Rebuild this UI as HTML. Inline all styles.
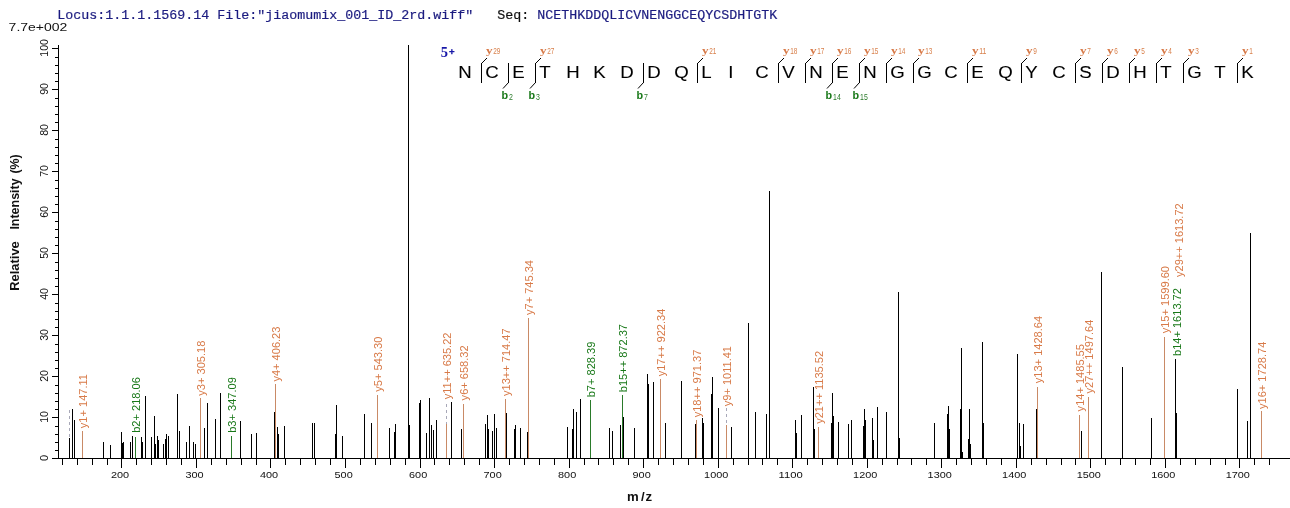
<!DOCTYPE html><html><head><meta charset="utf-8"><style>html,body{margin:0;padding:0;background:#fff;overflow:hidden}svg{display:block;will-change:transform}</style></head><body><svg width="1290" height="508" viewBox="0 0 1290 508">
<rect width="1290" height="508" fill="#fff"/>
<text x="57.3" y="18.9" font-family="Liberation Mono, monospace" font-size="13.7" fill="#1C1C80" stroke="#1C1C80" stroke-width="0.2" textLength="416" lengthAdjust="spacingAndGlyphs">Locus:1.1.1.1569.14 File:"jiaomumix_001_ID_2rd.wiff"</text>
<text x="497.3" y="18.9" font-family="Liberation Mono, monospace" font-size="13.7" fill="#111" stroke="#111" stroke-width="0.2" textLength="32" lengthAdjust="spacingAndGlyphs">Seq:</text>
<text x="537.3" y="18.9" font-family="Liberation Mono, monospace" font-size="13.7" fill="#1C1C80" stroke="#1C1C80" stroke-width="0.2" textLength="240" lengthAdjust="spacingAndGlyphs">NCETHKDDQLICVNENGGCEQYCSDHTGTK</text>
<text x="8.6" y="30.7" font-family="Liberation Sans, sans-serif" font-size="11.8" fill="#111" textLength="58.8" lengthAdjust="spacingAndGlyphs">7.7e+002</text>
<g stroke="#000" stroke-width="1" shape-rendering="crispEdges">
<line x1="58.5" y1="45" x2="58.5" y2="459"/>
<line x1="52" y1="458.5" x2="1290" y2="458.5"/>
<line x1="52" y1="458.5" x2="58.5" y2="458.5"/>
<line x1="55" y1="450.5" x2="58.5" y2="450.5"/>
<line x1="55" y1="442.5" x2="58.5" y2="442.5"/>
<line x1="55" y1="434.5" x2="58.5" y2="434.5"/>
<line x1="55" y1="426.5" x2="58.5" y2="426.5"/>
<line x1="52" y1="417.5" x2="58.5" y2="417.5"/>
<line x1="55" y1="409.5" x2="58.5" y2="409.5"/>
<line x1="55" y1="401.5" x2="58.5" y2="401.5"/>
<line x1="55" y1="393.5" x2="58.5" y2="393.5"/>
<line x1="55" y1="385.5" x2="58.5" y2="385.5"/>
<line x1="52" y1="376.5" x2="58.5" y2="376.5"/>
<line x1="55" y1="368.5" x2="58.5" y2="368.5"/>
<line x1="55" y1="360.5" x2="58.5" y2="360.5"/>
<line x1="55" y1="352.5" x2="58.5" y2="352.5"/>
<line x1="55" y1="344.5" x2="58.5" y2="344.5"/>
<line x1="52" y1="335.5" x2="58.5" y2="335.5"/>
<line x1="55" y1="327.5" x2="58.5" y2="327.5"/>
<line x1="55" y1="319.5" x2="58.5" y2="319.5"/>
<line x1="55" y1="311.5" x2="58.5" y2="311.5"/>
<line x1="55" y1="303.5" x2="58.5" y2="303.5"/>
<line x1="52" y1="294.5" x2="58.5" y2="294.5"/>
<line x1="55" y1="286.5" x2="58.5" y2="286.5"/>
<line x1="55" y1="278.5" x2="58.5" y2="278.5"/>
<line x1="55" y1="270.5" x2="58.5" y2="270.5"/>
<line x1="55" y1="262.5" x2="58.5" y2="262.5"/>
<line x1="52" y1="253.5" x2="58.5" y2="253.5"/>
<line x1="55" y1="245.5" x2="58.5" y2="245.5"/>
<line x1="55" y1="237.5" x2="58.5" y2="237.5"/>
<line x1="55" y1="229.5" x2="58.5" y2="229.5"/>
<line x1="55" y1="221.5" x2="58.5" y2="221.5"/>
<line x1="52" y1="212.5" x2="58.5" y2="212.5"/>
<line x1="55" y1="204.5" x2="58.5" y2="204.5"/>
<line x1="55" y1="196.5" x2="58.5" y2="196.5"/>
<line x1="55" y1="188.5" x2="58.5" y2="188.5"/>
<line x1="55" y1="180.5" x2="58.5" y2="180.5"/>
<line x1="52" y1="171.5" x2="58.5" y2="171.5"/>
<line x1="55" y1="163.5" x2="58.5" y2="163.5"/>
<line x1="55" y1="155.5" x2="58.5" y2="155.5"/>
<line x1="55" y1="147.5" x2="58.5" y2="147.5"/>
<line x1="55" y1="139.5" x2="58.5" y2="139.5"/>
<line x1="52" y1="130.5" x2="58.5" y2="130.5"/>
<line x1="55" y1="122.5" x2="58.5" y2="122.5"/>
<line x1="55" y1="114.5" x2="58.5" y2="114.5"/>
<line x1="55" y1="106.5" x2="58.5" y2="106.5"/>
<line x1="55" y1="98.5" x2="58.5" y2="98.5"/>
<line x1="52" y1="89.5" x2="58.5" y2="89.5"/>
<line x1="55" y1="81.5" x2="58.5" y2="81.5"/>
<line x1="55" y1="73.5" x2="58.5" y2="73.5"/>
<line x1="55" y1="65.5" x2="58.5" y2="65.5"/>
<line x1="55" y1="57.5" x2="58.5" y2="57.5"/>
<line x1="52" y1="48.5" x2="58.5" y2="48.5"/>
<line x1="62.5" y1="458.5" x2="62.5" y2="465"/>
<line x1="77.5" y1="458.5" x2="77.5" y2="465"/>
<line x1="92.5" y1="458.5" x2="92.5" y2="465"/>
<line x1="107.5" y1="458.5" x2="107.5" y2="465"/>
<line x1="121.5" y1="458.5" x2="121.5" y2="468"/>
<line x1="136.5" y1="458.5" x2="136.5" y2="465"/>
<line x1="151.5" y1="458.5" x2="151.5" y2="465"/>
<line x1="166.5" y1="458.5" x2="166.5" y2="465"/>
<line x1="181.5" y1="458.5" x2="181.5" y2="465"/>
<line x1="196.5" y1="458.5" x2="196.5" y2="468"/>
<line x1="211.5" y1="458.5" x2="211.5" y2="465"/>
<line x1="226.5" y1="458.5" x2="226.5" y2="465"/>
<line x1="241.5" y1="458.5" x2="241.5" y2="465"/>
<line x1="256.5" y1="458.5" x2="256.5" y2="465"/>
<line x1="270.5" y1="458.5" x2="270.5" y2="468"/>
<line x1="285.5" y1="458.5" x2="285.5" y2="465"/>
<line x1="300.5" y1="458.5" x2="300.5" y2="465"/>
<line x1="315.5" y1="458.5" x2="315.5" y2="465"/>
<line x1="330.5" y1="458.5" x2="330.5" y2="465"/>
<line x1="345.5" y1="458.5" x2="345.5" y2="468"/>
<line x1="360.5" y1="458.5" x2="360.5" y2="465"/>
<line x1="375.5" y1="458.5" x2="375.5" y2="465"/>
<line x1="390.5" y1="458.5" x2="390.5" y2="465"/>
<line x1="405.5" y1="458.5" x2="405.5" y2="465"/>
<line x1="420.5" y1="458.5" x2="420.5" y2="468"/>
<line x1="434.5" y1="458.5" x2="434.5" y2="465"/>
<line x1="449.5" y1="458.5" x2="449.5" y2="465"/>
<line x1="464.5" y1="458.5" x2="464.5" y2="465"/>
<line x1="479.5" y1="458.5" x2="479.5" y2="465"/>
<line x1="494.5" y1="458.5" x2="494.5" y2="468"/>
<line x1="509.5" y1="458.5" x2="509.5" y2="465"/>
<line x1="524.5" y1="458.5" x2="524.5" y2="465"/>
<line x1="539.5" y1="458.5" x2="539.5" y2="465"/>
<line x1="554.5" y1="458.5" x2="554.5" y2="465"/>
<line x1="569.5" y1="458.5" x2="569.5" y2="468"/>
<line x1="584.5" y1="458.5" x2="584.5" y2="465"/>
<line x1="598.5" y1="458.5" x2="598.5" y2="465"/>
<line x1="613.5" y1="458.5" x2="613.5" y2="465"/>
<line x1="628.5" y1="458.5" x2="628.5" y2="465"/>
<line x1="643.5" y1="458.5" x2="643.5" y2="468"/>
<line x1="658.5" y1="458.5" x2="658.5" y2="465"/>
<line x1="673.5" y1="458.5" x2="673.5" y2="465"/>
<line x1="688.5" y1="458.5" x2="688.5" y2="465"/>
<line x1="703.5" y1="458.5" x2="703.5" y2="465"/>
<line x1="718.5" y1="458.5" x2="718.5" y2="468"/>
<line x1="733.5" y1="458.5" x2="733.5" y2="465"/>
<line x1="748.5" y1="458.5" x2="748.5" y2="465"/>
<line x1="762.5" y1="458.5" x2="762.5" y2="465"/>
<line x1="777.5" y1="458.5" x2="777.5" y2="465"/>
<line x1="792.5" y1="458.5" x2="792.5" y2="468"/>
<line x1="807.5" y1="458.5" x2="807.5" y2="465"/>
<line x1="822.5" y1="458.5" x2="822.5" y2="465"/>
<line x1="837.5" y1="458.5" x2="837.5" y2="465"/>
<line x1="852.5" y1="458.5" x2="852.5" y2="465"/>
<line x1="867.5" y1="458.5" x2="867.5" y2="468"/>
<line x1="882.5" y1="458.5" x2="882.5" y2="465"/>
<line x1="897.5" y1="458.5" x2="897.5" y2="465"/>
<line x1="911.5" y1="458.5" x2="911.5" y2="465"/>
<line x1="926.5" y1="458.5" x2="926.5" y2="465"/>
<line x1="941.5" y1="458.5" x2="941.5" y2="468"/>
<line x1="956.5" y1="458.5" x2="956.5" y2="465"/>
<line x1="971.5" y1="458.5" x2="971.5" y2="465"/>
<line x1="986.5" y1="458.5" x2="986.5" y2="465"/>
<line x1="1001.5" y1="458.5" x2="1001.5" y2="465"/>
<line x1="1016.5" y1="458.5" x2="1016.5" y2="468"/>
<line x1="1031.5" y1="458.5" x2="1031.5" y2="465"/>
<line x1="1046.5" y1="458.5" x2="1046.5" y2="465"/>
<line x1="1061.5" y1="458.5" x2="1061.5" y2="465"/>
<line x1="1075.5" y1="458.5" x2="1075.5" y2="465"/>
<line x1="1090.5" y1="458.5" x2="1090.5" y2="468"/>
<line x1="1105.5" y1="458.5" x2="1105.5" y2="465"/>
<line x1="1120.5" y1="458.5" x2="1120.5" y2="465"/>
<line x1="1135.5" y1="458.5" x2="1135.5" y2="465"/>
<line x1="1150.5" y1="458.5" x2="1150.5" y2="465"/>
<line x1="1165.5" y1="458.5" x2="1165.5" y2="468"/>
<line x1="1180.5" y1="458.5" x2="1180.5" y2="465"/>
<line x1="1195.5" y1="458.5" x2="1195.5" y2="465"/>
<line x1="1210.5" y1="458.5" x2="1210.5" y2="465"/>
<line x1="1225.5" y1="458.5" x2="1225.5" y2="465"/>
<line x1="1239.5" y1="458.5" x2="1239.5" y2="468"/>
<line x1="1254.5" y1="458.5" x2="1254.5" y2="465"/>
<line x1="1269.5" y1="458.5" x2="1269.5" y2="465"/>
</g>
<text x="120.0" y="478.2" font-family="Liberation Sans, sans-serif" font-size="9.5" fill="#111" text-anchor="middle" textLength="18.2" lengthAdjust="spacingAndGlyphs">200</text>
<text x="194.5" y="478.2" font-family="Liberation Sans, sans-serif" font-size="9.5" fill="#111" text-anchor="middle" textLength="18.2" lengthAdjust="spacingAndGlyphs">300</text>
<text x="269.0" y="478.2" font-family="Liberation Sans, sans-serif" font-size="9.5" fill="#111" text-anchor="middle" textLength="18.2" lengthAdjust="spacingAndGlyphs">400</text>
<text x="343.6" y="478.2" font-family="Liberation Sans, sans-serif" font-size="9.5" fill="#111" text-anchor="middle" textLength="18.2" lengthAdjust="spacingAndGlyphs">500</text>
<text x="418.1" y="478.2" font-family="Liberation Sans, sans-serif" font-size="9.5" fill="#111" text-anchor="middle" textLength="18.2" lengthAdjust="spacingAndGlyphs">600</text>
<text x="492.6" y="478.2" font-family="Liberation Sans, sans-serif" font-size="9.5" fill="#111" text-anchor="middle" textLength="18.2" lengthAdjust="spacingAndGlyphs">700</text>
<text x="567.1" y="478.2" font-family="Liberation Sans, sans-serif" font-size="9.5" fill="#111" text-anchor="middle" textLength="18.2" lengthAdjust="spacingAndGlyphs">800</text>
<text x="641.6" y="478.2" font-family="Liberation Sans, sans-serif" font-size="9.5" fill="#111" text-anchor="middle" textLength="18.2" lengthAdjust="spacingAndGlyphs">900</text>
<text x="716.2" y="478.2" font-family="Liberation Sans, sans-serif" font-size="9.5" fill="#111" text-anchor="middle" textLength="24.2" lengthAdjust="spacingAndGlyphs">1000</text>
<text x="790.7" y="478.2" font-family="Liberation Sans, sans-serif" font-size="9.5" fill="#111" text-anchor="middle" textLength="24.2" lengthAdjust="spacingAndGlyphs">1100</text>
<text x="865.2" y="478.2" font-family="Liberation Sans, sans-serif" font-size="9.5" fill="#111" text-anchor="middle" textLength="24.2" lengthAdjust="spacingAndGlyphs">1200</text>
<text x="939.7" y="478.2" font-family="Liberation Sans, sans-serif" font-size="9.5" fill="#111" text-anchor="middle" textLength="24.2" lengthAdjust="spacingAndGlyphs">1300</text>
<text x="1014.2" y="478.2" font-family="Liberation Sans, sans-serif" font-size="9.5" fill="#111" text-anchor="middle" textLength="24.2" lengthAdjust="spacingAndGlyphs">1400</text>
<text x="1088.8" y="478.2" font-family="Liberation Sans, sans-serif" font-size="9.5" fill="#111" text-anchor="middle" textLength="24.2" lengthAdjust="spacingAndGlyphs">1500</text>
<text x="1163.3" y="478.2" font-family="Liberation Sans, sans-serif" font-size="9.5" fill="#111" text-anchor="middle" textLength="24.2" lengthAdjust="spacingAndGlyphs">1600</text>
<text x="1237.8" y="478.2" font-family="Liberation Sans, sans-serif" font-size="9.5" fill="#111" text-anchor="middle" textLength="24.2" lengthAdjust="spacingAndGlyphs">1700</text>
<text transform="translate(48.2,457.9) rotate(-90)" font-family="Liberation Sans, sans-serif" font-size="11" fill="#111" text-anchor="middle" textLength="6.2" lengthAdjust="spacingAndGlyphs">0</text>
<text transform="translate(48.2,416.9) rotate(-90)" font-family="Liberation Sans, sans-serif" font-size="11" fill="#111" text-anchor="middle" textLength="11.8" lengthAdjust="spacingAndGlyphs">10</text>
<text transform="translate(48.2,375.9) rotate(-90)" font-family="Liberation Sans, sans-serif" font-size="11" fill="#111" text-anchor="middle" textLength="11.8" lengthAdjust="spacingAndGlyphs">20</text>
<text transform="translate(48.2,334.9) rotate(-90)" font-family="Liberation Sans, sans-serif" font-size="11" fill="#111" text-anchor="middle" textLength="11.8" lengthAdjust="spacingAndGlyphs">30</text>
<text transform="translate(48.2,293.9) rotate(-90)" font-family="Liberation Sans, sans-serif" font-size="11" fill="#111" text-anchor="middle" textLength="11.8" lengthAdjust="spacingAndGlyphs">40</text>
<text transform="translate(48.2,252.9) rotate(-90)" font-family="Liberation Sans, sans-serif" font-size="11" fill="#111" text-anchor="middle" textLength="11.8" lengthAdjust="spacingAndGlyphs">50</text>
<text transform="translate(48.2,211.9) rotate(-90)" font-family="Liberation Sans, sans-serif" font-size="11" fill="#111" text-anchor="middle" textLength="11.8" lengthAdjust="spacingAndGlyphs">60</text>
<text transform="translate(48.2,170.9) rotate(-90)" font-family="Liberation Sans, sans-serif" font-size="11" fill="#111" text-anchor="middle" textLength="11.8" lengthAdjust="spacingAndGlyphs">70</text>
<text transform="translate(48.2,129.9) rotate(-90)" font-family="Liberation Sans, sans-serif" font-size="11" fill="#111" text-anchor="middle" textLength="11.8" lengthAdjust="spacingAndGlyphs">80</text>
<text transform="translate(48.2,88.9) rotate(-90)" font-family="Liberation Sans, sans-serif" font-size="11" fill="#111" text-anchor="middle" textLength="11.8" lengthAdjust="spacingAndGlyphs">90</text>
<text transform="translate(48.2,47.9) rotate(-90)" font-family="Liberation Sans, sans-serif" font-size="11" fill="#111" text-anchor="middle" textLength="17.6" lengthAdjust="spacingAndGlyphs">100</text>
<g font-family="Liberation Sans, sans-serif" font-weight="bold" font-size="13" fill="#111">
<text transform="translate(18.8,266.0) rotate(-90)" text-anchor="middle" textLength="49.6" lengthAdjust="spacingAndGlyphs">Relative</text>
<text transform="translate(18.8,204.0) rotate(-90)" text-anchor="middle" textLength="51.2" lengthAdjust="spacingAndGlyphs">Intensity</text>
<text transform="translate(18.8,164.0) rotate(-90)" text-anchor="middle" textLength="19.2" lengthAdjust="spacingAndGlyphs">(%)</text>
</g>
<text x="626.9" y="501" font-family="Liberation Sans, sans-serif" font-weight="bold" font-size="13.2" fill="#111">m</text>
<text x="641.0" y="501" font-family="Liberation Sans, sans-serif" font-weight="bold" font-size="13.2" fill="#111">/</text>
<text x="645.4" y="501" font-family="Liberation Sans, sans-serif" font-weight="bold" font-size="13.2" fill="#111">z</text>
<g stroke="#000" stroke-width="1" shape-rendering="crispEdges">
<line x1="69.5" y1="438.0" x2="69.5" y2="458"/>
<line x1="72.5" y1="408.8" x2="72.5" y2="458"/>
<line x1="74.5" y1="419.8" x2="74.5" y2="458"/>
<line x1="103.5" y1="441.9" x2="103.5" y2="458"/>
<line x1="110.5" y1="445.0" x2="110.5" y2="458"/>
<line x1="121.5" y1="431.9" x2="121.5" y2="458"/>
<line x1="122.5" y1="443.3" x2="122.5" y2="458"/>
<line x1="123.5" y1="441.9" x2="123.5" y2="458"/>
<line x1="130.5" y1="441.9" x2="130.5" y2="458"/>
<line x1="132.5" y1="435.9" x2="132.5" y2="458"/>
<line x1="141.5" y1="436.9" x2="141.5" y2="458"/>
<line x1="142.5" y1="441.9" x2="142.5" y2="458"/>
<line x1="145.5" y1="395.7" x2="145.5" y2="458"/>
<line x1="151.5" y1="436.9" x2="151.5" y2="458"/>
<line x1="154.5" y1="416.0" x2="154.5" y2="458"/>
<line x1="155.5" y1="444.0" x2="155.5" y2="458"/>
<line x1="157.5" y1="435.9" x2="157.5" y2="458"/>
<line x1="158.5" y1="439.9" x2="158.5" y2="458"/>
<line x1="163.5" y1="444.0" x2="163.5" y2="458"/>
<line x1="165.5" y1="438.9" x2="165.5" y2="458"/>
<line x1="166.5" y1="433.9" x2="166.5" y2="458"/>
<line x1="168.5" y1="435.9" x2="168.5" y2="458"/>
<line x1="177.5" y1="394.1" x2="177.5" y2="458"/>
<line x1="179.5" y1="430.9" x2="179.5" y2="458"/>
<line x1="186.5" y1="441.9" x2="186.5" y2="458"/>
<line x1="189.5" y1="425.9" x2="189.5" y2="458"/>
<line x1="193.5" y1="441.9" x2="193.5" y2="458"/>
<line x1="195.5" y1="444.0" x2="195.5" y2="458"/>
<line x1="204.5" y1="427.9" x2="204.5" y2="458"/>
<line x1="207.5" y1="402.8" x2="207.5" y2="458"/>
<line x1="215.5" y1="418.8" x2="215.5" y2="458"/>
<line x1="220.5" y1="393.1" x2="220.5" y2="458"/>
<line x1="240.5" y1="420.8" x2="240.5" y2="458"/>
<line x1="251.5" y1="433.9" x2="251.5" y2="458"/>
<line x1="256.5" y1="432.9" x2="256.5" y2="458"/>
<line x1="274.5" y1="411.8" x2="274.5" y2="458"/>
<line x1="277.5" y1="426.9" x2="277.5" y2="458"/>
<line x1="278.5" y1="433.9" x2="278.5" y2="458"/>
<line x1="284.5" y1="425.9" x2="284.5" y2="458"/>
<line x1="312.5" y1="422.9" x2="312.5" y2="458"/>
<line x1="314.5" y1="422.9" x2="314.5" y2="458"/>
<line x1="335.5" y1="433.9" x2="335.5" y2="458"/>
<line x1="336.5" y1="404.8" x2="336.5" y2="458"/>
<line x1="342.5" y1="435.9" x2="342.5" y2="458"/>
<line x1="364.5" y1="413.8" x2="364.5" y2="458"/>
<line x1="371.5" y1="422.9" x2="371.5" y2="458"/>
<line x1="389.5" y1="427.9" x2="389.5" y2="458"/>
<line x1="394.5" y1="431.9" x2="394.5" y2="458"/>
<line x1="395.5" y1="423.9" x2="395.5" y2="458"/>
<line x1="408.5" y1="45.0" x2="408.5" y2="458"/>
<line x1="409.5" y1="424.9" x2="409.5" y2="458"/>
<line x1="419.5" y1="402.8" x2="419.5" y2="458"/>
<line x1="420.5" y1="400.2" x2="420.5" y2="458"/>
<line x1="426.5" y1="432.9" x2="426.5" y2="458"/>
<line x1="429.5" y1="398.2" x2="429.5" y2="458"/>
<line x1="431.5" y1="424.9" x2="431.5" y2="458"/>
<line x1="433.5" y1="429.9" x2="433.5" y2="458"/>
<line x1="436.5" y1="419.8" x2="436.5" y2="458"/>
<line x1="451.5" y1="402.0" x2="451.5" y2="458"/>
<line x1="461.5" y1="429.0" x2="461.5" y2="458"/>
<line x1="485.5" y1="423.9" x2="485.5" y2="458"/>
<line x1="487.5" y1="414.8" x2="487.5" y2="458"/>
<line x1="488.5" y1="428.9" x2="488.5" y2="458"/>
<line x1="492.5" y1="430.9" x2="492.5" y2="458"/>
<line x1="494.5" y1="413.8" x2="494.5" y2="458"/>
<line x1="496.5" y1="427.9" x2="496.5" y2="458"/>
<line x1="506.5" y1="412.8" x2="506.5" y2="458"/>
<line x1="514.5" y1="428.9" x2="514.5" y2="458"/>
<line x1="515.5" y1="424.9" x2="515.5" y2="458"/>
<line x1="520.5" y1="427.9" x2="520.5" y2="458"/>
<line x1="527.5" y1="431.9" x2="527.5" y2="458"/>
<line x1="567.5" y1="426.9" x2="567.5" y2="458"/>
<line x1="572.5" y1="428.9" x2="572.5" y2="458"/>
<line x1="573.5" y1="408.8" x2="573.5" y2="458"/>
<line x1="576.5" y1="411.8" x2="576.5" y2="458"/>
<line x1="580.5" y1="398.8" x2="580.5" y2="458"/>
<line x1="609.5" y1="427.9" x2="609.5" y2="458"/>
<line x1="612.5" y1="430.9" x2="612.5" y2="458"/>
<line x1="620.5" y1="424.9" x2="620.5" y2="458"/>
<line x1="623.5" y1="416.8" x2="623.5" y2="458"/>
<line x1="634.5" y1="427.9" x2="634.5" y2="458"/>
<line x1="647.5" y1="374.1" x2="647.5" y2="458"/>
<line x1="648.5" y1="384.1" x2="648.5" y2="458"/>
<line x1="653.5" y1="382.1" x2="653.5" y2="458"/>
<line x1="665.5" y1="422.9" x2="665.5" y2="458"/>
<line x1="681.5" y1="380.7" x2="681.5" y2="458"/>
<line x1="695.5" y1="424.0" x2="695.5" y2="458"/>
<line x1="702.5" y1="417.8" x2="702.5" y2="458"/>
<line x1="703.5" y1="422.9" x2="703.5" y2="458"/>
<line x1="711.5" y1="393.7" x2="711.5" y2="458"/>
<line x1="712.5" y1="377.1" x2="712.5" y2="458"/>
<line x1="718.5" y1="407.8" x2="718.5" y2="458"/>
<line x1="731.5" y1="426.9" x2="731.5" y2="458"/>
<line x1="748.5" y1="322.9" x2="748.5" y2="458"/>
<line x1="755.5" y1="411.8" x2="755.5" y2="458"/>
<line x1="766.5" y1="413.8" x2="766.5" y2="458"/>
<line x1="769.5" y1="190.8" x2="769.5" y2="458"/>
<line x1="795.5" y1="419.8" x2="795.5" y2="458"/>
<line x1="796.5" y1="432.9" x2="796.5" y2="458"/>
<line x1="801.5" y1="414.8" x2="801.5" y2="458"/>
<line x1="813.5" y1="386.7" x2="813.5" y2="458"/>
<line x1="814.5" y1="428.9" x2="814.5" y2="458"/>
<line x1="831.5" y1="422.9" x2="831.5" y2="458"/>
<line x1="832.5" y1="393.1" x2="832.5" y2="458"/>
<line x1="833.5" y1="415.8" x2="833.5" y2="458"/>
<line x1="838.5" y1="421.8" x2="838.5" y2="458"/>
<line x1="848.5" y1="423.9" x2="848.5" y2="458"/>
<line x1="851.5" y1="419.8" x2="851.5" y2="458"/>
<line x1="863.5" y1="425.9" x2="863.5" y2="458"/>
<line x1="864.5" y1="408.8" x2="864.5" y2="458"/>
<line x1="865.5" y1="419.8" x2="865.5" y2="458"/>
<line x1="872.5" y1="417.8" x2="872.5" y2="458"/>
<line x1="873.5" y1="439.9" x2="873.5" y2="458"/>
<line x1="877.5" y1="406.8" x2="877.5" y2="458"/>
<line x1="886.5" y1="411.8" x2="886.5" y2="458"/>
<line x1="898.5" y1="291.9" x2="898.5" y2="458"/>
<line x1="899.5" y1="437.9" x2="899.5" y2="458"/>
<line x1="934.5" y1="422.9" x2="934.5" y2="458"/>
<line x1="947.5" y1="413.8" x2="947.5" y2="458"/>
<line x1="948.5" y1="405.8" x2="948.5" y2="458"/>
<line x1="949.5" y1="428.9" x2="949.5" y2="458"/>
<line x1="960.5" y1="408.8" x2="960.5" y2="458"/>
<line x1="961.5" y1="348.1" x2="961.5" y2="458"/>
<line x1="962.5" y1="452.0" x2="962.5" y2="458"/>
<line x1="968.5" y1="438.9" x2="968.5" y2="458"/>
<line x1="969.5" y1="408.8" x2="969.5" y2="458"/>
<line x1="970.5" y1="444.0" x2="970.5" y2="458"/>
<line x1="982.5" y1="342.3" x2="982.5" y2="458"/>
<line x1="983.5" y1="422.9" x2="983.5" y2="458"/>
<line x1="1017.5" y1="354.0" x2="1017.5" y2="458"/>
<line x1="1019.5" y1="422.9" x2="1019.5" y2="458"/>
<line x1="1020.5" y1="446.0" x2="1020.5" y2="458"/>
<line x1="1023.5" y1="423.9" x2="1023.5" y2="458"/>
<line x1="1036.5" y1="408.8" x2="1036.5" y2="458"/>
<line x1="1081.5" y1="430.9" x2="1081.5" y2="458"/>
<line x1="1101.5" y1="272.1" x2="1101.5" y2="458"/>
<line x1="1122.5" y1="367.0" x2="1122.5" y2="458"/>
<line x1="1151.5" y1="417.8" x2="1151.5" y2="458"/>
<line x1="1175.5" y1="359.1" x2="1175.5" y2="458"/>
<line x1="1176.5" y1="412.8" x2="1176.5" y2="458"/>
<line x1="1237.5" y1="389.1" x2="1237.5" y2="458"/>
<line x1="1247.5" y1="420.8" x2="1247.5" y2="458"/>
<line x1="1250.5" y1="232.9" x2="1250.5" y2="458"/>
</g>
<line x1="82.5" y1="431.0" x2="82.5" y2="458" stroke="#C98A66" stroke-width="1" shape-rendering="crispEdges"/>
<text transform="translate(87.1,428.2) rotate(-90)" font-family="Liberation Sans, sans-serif" font-size="10.1" fill="#D87A48" textLength="54.2" lengthAdjust="spacingAndGlyphs">y1+ 147.11</text>
<line x1="135.5" y1="437.4" x2="135.5" y2="458" stroke="#2A7A2A" stroke-width="1" shape-rendering="crispEdges"/>
<text transform="translate(140.1,432.8) rotate(-90)" font-family="Liberation Sans, sans-serif" font-size="10.1" fill="#187818" textLength="55.6" lengthAdjust="spacingAndGlyphs">b2+ 218.06</text>
<line x1="200.5" y1="398.2" x2="200.5" y2="458" stroke="#C98A66" stroke-width="1" shape-rendering="crispEdges"/>
<text transform="translate(205.1,395.7) rotate(-90)" font-family="Liberation Sans, sans-serif" font-size="10.1" fill="#D87A48" textLength="55.0" lengthAdjust="spacingAndGlyphs">y3+ 305.18</text>
<line x1="231.5" y1="436.0" x2="231.5" y2="458" stroke="#2A7A2A" stroke-width="1" shape-rendering="crispEdges"/>
<text transform="translate(236.1,432.8) rotate(-90)" font-family="Liberation Sans, sans-serif" font-size="10.1" fill="#187818" textLength="55.6" lengthAdjust="spacingAndGlyphs">b3+ 347.09</text>
<line x1="275.5" y1="384.3" x2="275.5" y2="458" stroke="#C98A66" stroke-width="1" shape-rendering="crispEdges"/>
<text transform="translate(280.1,381.6) rotate(-90)" font-family="Liberation Sans, sans-serif" font-size="10.1" fill="#D87A48" textLength="55.0" lengthAdjust="spacingAndGlyphs">y4+ 406.23</text>
<line x1="377.5" y1="395.2" x2="377.5" y2="458" stroke="#C98A66" stroke-width="1" shape-rendering="crispEdges"/>
<text transform="translate(382.1,391.7) rotate(-90)" font-family="Liberation Sans, sans-serif" font-size="10.1" fill="#D87A48" textLength="55.0" lengthAdjust="spacingAndGlyphs">y5+ 543.30</text>
<line x1="446.5" y1="423.5" x2="446.5" y2="458" stroke="#C98A66" stroke-width="1" shape-rendering="crispEdges"/>
<line x1="446.5" y1="404.0" x2="446.5" y2="423.5" stroke="#A8A8B8" stroke-width="1" stroke-dasharray="3,3" shape-rendering="crispEdges"/>
<text transform="translate(451.1,399.3) rotate(-90)" font-family="Liberation Sans, sans-serif" font-size="10.1" fill="#D87A48" textLength="66.8" lengthAdjust="spacingAndGlyphs">y11++ 635.22</text>
<line x1="463.5" y1="403.7" x2="463.5" y2="458" stroke="#C98A66" stroke-width="1" shape-rendering="crispEdges"/>
<text transform="translate(468.1,400.4) rotate(-90)" font-family="Liberation Sans, sans-serif" font-size="10.1" fill="#D87A48" textLength="55.0" lengthAdjust="spacingAndGlyphs">y6+ 658.32</text>
<line x1="505.5" y1="398.6" x2="505.5" y2="458" stroke="#C98A66" stroke-width="1" shape-rendering="crispEdges"/>
<text transform="translate(510.1,396.0) rotate(-90)" font-family="Liberation Sans, sans-serif" font-size="10.1" fill="#D87A48" textLength="67.6" lengthAdjust="spacingAndGlyphs">y13++ 714.47</text>
<line x1="528.5" y1="317.7" x2="528.5" y2="458" stroke="#C98A66" stroke-width="1" shape-rendering="crispEdges"/>
<text transform="translate(533.1,315.0) rotate(-90)" font-family="Liberation Sans, sans-serif" font-size="10.1" fill="#D87A48" textLength="55.0" lengthAdjust="spacingAndGlyphs">y7+ 745.34</text>
<line x1="590.5" y1="400.4" x2="590.5" y2="458" stroke="#2A7A2A" stroke-width="1" shape-rendering="crispEdges"/>
<text transform="translate(595.1,397.3) rotate(-90)" font-family="Liberation Sans, sans-serif" font-size="10.1" fill="#187818" textLength="55.6" lengthAdjust="spacingAndGlyphs">b7+ 828.39</text>
<line x1="622.5" y1="395.2" x2="622.5" y2="458" stroke="#2A7A2A" stroke-width="1" shape-rendering="crispEdges"/>
<text transform="translate(627.1,392.2) rotate(-90)" font-family="Liberation Sans, sans-serif" font-size="10.1" fill="#187818" textLength="68.2" lengthAdjust="spacingAndGlyphs">b15++ 872.37</text>
<line x1="660.5" y1="379.4" x2="660.5" y2="458" stroke="#C98A66" stroke-width="1" shape-rendering="crispEdges"/>
<text transform="translate(665.1,376.3) rotate(-90)" font-family="Liberation Sans, sans-serif" font-size="10.1" fill="#D87A48" textLength="67.6" lengthAdjust="spacingAndGlyphs">y17++ 922.34</text>
<line x1="696.5" y1="420.3" x2="696.5" y2="458" stroke="#C98A66" stroke-width="1" shape-rendering="crispEdges"/>
<text transform="translate(701.1,417.3) rotate(-90)" font-family="Liberation Sans, sans-serif" font-size="10.1" fill="#D87A48" textLength="67.6" lengthAdjust="spacingAndGlyphs">y18++ 971.37</text>
<line x1="726.5" y1="424.5" x2="726.5" y2="458" stroke="#C98A66" stroke-width="1" shape-rendering="crispEdges"/>
<line x1="726.5" y1="408.0" x2="726.5" y2="424.5" stroke="#A8A8B8" stroke-width="1" stroke-dasharray="3,3" shape-rendering="crispEdges"/>
<text transform="translate(731.1,406.3) rotate(-90)" font-family="Liberation Sans, sans-serif" font-size="10.1" fill="#D87A48" textLength="60.3" lengthAdjust="spacingAndGlyphs">y9+ 1011.41</text>
<line x1="818.5" y1="427.4" x2="818.5" y2="458" stroke="#C98A66" stroke-width="1" shape-rendering="crispEdges"/>
<text transform="translate(823.1,423.8) rotate(-90)" font-family="Liberation Sans, sans-serif" font-size="10.1" fill="#D87A48" textLength="72.9" lengthAdjust="spacingAndGlyphs">y21++ 1135.52</text>
<line x1="1037.5" y1="386.5" x2="1037.5" y2="458" stroke="#C98A66" stroke-width="1" shape-rendering="crispEdges"/>
<text transform="translate(1042.1,383.2) rotate(-90)" font-family="Liberation Sans, sans-serif" font-size="10.1" fill="#D87A48" textLength="67.3" lengthAdjust="spacingAndGlyphs">y13+ 1428.64</text>
<line x1="1079.5" y1="414.7" x2="1079.5" y2="458" stroke="#C98A66" stroke-width="1" shape-rendering="crispEdges"/>
<text transform="translate(1084.1,411.4) rotate(-90)" font-family="Liberation Sans, sans-serif" font-size="10.1" fill="#D87A48" textLength="67.3" lengthAdjust="spacingAndGlyphs">y14+ 1485.55</text>
<line x1="1088.5" y1="396.8" x2="1088.5" y2="458" stroke="#C98A66" stroke-width="1" shape-rendering="crispEdges"/>
<text transform="translate(1093.1,393.4) rotate(-90)" font-family="Liberation Sans, sans-serif" font-size="10.1" fill="#D87A48" textLength="73.7" lengthAdjust="spacingAndGlyphs">y27++ 1497.64</text>
<line x1="1164.5" y1="336.6" x2="1164.5" y2="458" stroke="#C98A66" stroke-width="1" shape-rendering="crispEdges"/>
<text transform="translate(1169.1,333.3) rotate(-90)" font-family="Liberation Sans, sans-serif" font-size="10.1" fill="#D87A48" textLength="67.3" lengthAdjust="spacingAndGlyphs">y15+ 1599.60</text>
<line x1="1261.5" y1="411.2" x2="1261.5" y2="458" stroke="#C98A66" stroke-width="1" shape-rendering="crispEdges"/>
<text transform="translate(1266.1,409.0) rotate(-90)" font-family="Liberation Sans, sans-serif" font-size="10.1" fill="#D87A48" textLength="67.3" lengthAdjust="spacingAndGlyphs">y16+ 1728.74</text>
<line x1="69.5" y1="410" x2="69.5" y2="438" stroke="#A8A8B8" stroke-width="1" stroke-dasharray="3,3" shape-rendering="crispEdges"/>
<text transform="translate(1181.1,356.0) rotate(-90)" font-family="Liberation Sans, sans-serif" font-size="10.1" fill="#187818" textLength="67.9" lengthAdjust="spacingAndGlyphs">b14+ 1613.72</text>
<text transform="translate(1182.8,277.0) rotate(-90)" font-family="Liberation Sans, sans-serif" font-size="10.1" fill="#D87A48" textLength="73.7" lengthAdjust="spacingAndGlyphs">y29++ 1613.72</text>
<g font-family="Liberation Sans, sans-serif" font-size="16.8" fill="#000" stroke="#000" stroke-width="0.1">
<text transform="translate(458.3,78) scale(1.11,1)">N</text>
<text transform="translate(485.3,78) scale(1.11,1)">C</text>
<text transform="translate(512.3,78) scale(1.11,1)">E</text>
<text transform="translate(539.3,78) scale(1.11,1)">T</text>
<text transform="translate(566.3,78) scale(1.11,1)">H</text>
<text transform="translate(593.3,78) scale(1.11,1)">K</text>
<text transform="translate(620.3,78) scale(1.11,1)">D</text>
<text transform="translate(647.3,78) scale(1.11,1)">D</text>
<text transform="translate(674.3,78) scale(1.11,1)">Q</text>
<text transform="translate(701.3,78) scale(1.11,1)">L</text>
<text transform="translate(728.3,78) scale(1.11,1)">I</text>
<text transform="translate(755.3,78) scale(1.11,1)">C</text>
<text transform="translate(782.3,78) scale(1.11,1)">V</text>
<text transform="translate(809.3,78) scale(1.11,1)">N</text>
<text transform="translate(836.3,78) scale(1.11,1)">E</text>
<text transform="translate(863.3,78) scale(1.11,1)">N</text>
<text transform="translate(890.3,78) scale(1.11,1)">G</text>
<text transform="translate(917.3,78) scale(1.11,1)">G</text>
<text transform="translate(944.3,78) scale(1.11,1)">C</text>
<text transform="translate(971.3,78) scale(1.11,1)">E</text>
<text transform="translate(998.3,78) scale(1.11,1)">Q</text>
<text transform="translate(1025.3,78) scale(1.11,1)">Y</text>
<text transform="translate(1052.3,78) scale(1.11,1)">C</text>
<text transform="translate(1079.3,78) scale(1.11,1)">S</text>
<text transform="translate(1106.3,78) scale(1.11,1)">D</text>
<text transform="translate(1133.3,78) scale(1.11,1)">H</text>
<text transform="translate(1160.3,78) scale(1.11,1)">T</text>
<text transform="translate(1187.3,78) scale(1.11,1)">G</text>
<text transform="translate(1214.3,78) scale(1.11,1)">T</text>
<text transform="translate(1241.3,78) scale(1.11,1)">K</text>
</g>
<text x="440.8" y="56.6" font-family="Liberation Serif, serif" font-weight="bold" font-size="14.5" fill="#1818A8">5</text>
<text x="449.0" y="55.4" font-family="Liberation Sans, sans-serif" font-weight="bold" font-size="9.6" fill="#1818A8" stroke="#1818A8" stroke-width="0.3">+</text>
<g stroke="#000" stroke-width="1" fill="none">
<line x1="481.5" y1="63" x2="481.5" y2="83" shape-rendering="crispEdges"/>
<line x1="481.5" y1="63.5" x2="487.0" y2="58"/>
<line x1="508.5" y1="63" x2="508.5" y2="83" shape-rendering="crispEdges"/>
<line x1="508.5" y1="82.5" x2="503.0" y2="88.5"/>
<line x1="535.5" y1="63" x2="535.5" y2="83" shape-rendering="crispEdges"/>
<line x1="535.5" y1="63.5" x2="541.0" y2="58"/>
<line x1="535.5" y1="82.5" x2="530.0" y2="88.5"/>
<line x1="643.5" y1="63" x2="643.5" y2="83" shape-rendering="crispEdges"/>
<line x1="643.5" y1="82.5" x2="638.0" y2="88.5"/>
<line x1="697.5" y1="63" x2="697.5" y2="83" shape-rendering="crispEdges"/>
<line x1="697.5" y1="63.5" x2="703.0" y2="58"/>
<line x1="778.5" y1="63" x2="778.5" y2="83" shape-rendering="crispEdges"/>
<line x1="778.5" y1="63.5" x2="784.0" y2="58"/>
<line x1="805.5" y1="63" x2="805.5" y2="83" shape-rendering="crispEdges"/>
<line x1="805.5" y1="63.5" x2="811.0" y2="58"/>
<line x1="832.5" y1="63" x2="832.5" y2="83" shape-rendering="crispEdges"/>
<line x1="832.5" y1="63.5" x2="838.0" y2="58"/>
<line x1="832.5" y1="82.5" x2="827.0" y2="88.5"/>
<line x1="859.5" y1="63" x2="859.5" y2="83" shape-rendering="crispEdges"/>
<line x1="859.5" y1="63.5" x2="865.0" y2="58"/>
<line x1="859.5" y1="82.5" x2="854.0" y2="88.5"/>
<line x1="886.5" y1="63" x2="886.5" y2="83" shape-rendering="crispEdges"/>
<line x1="886.5" y1="63.5" x2="892.0" y2="58"/>
<line x1="913.5" y1="63" x2="913.5" y2="83" shape-rendering="crispEdges"/>
<line x1="913.5" y1="63.5" x2="919.0" y2="58"/>
<line x1="967.5" y1="63" x2="967.5" y2="83" shape-rendering="crispEdges"/>
<line x1="967.5" y1="63.5" x2="973.0" y2="58"/>
<line x1="1021.5" y1="63" x2="1021.5" y2="83" shape-rendering="crispEdges"/>
<line x1="1021.5" y1="63.5" x2="1027.0" y2="58"/>
<line x1="1075.5" y1="63" x2="1075.5" y2="83" shape-rendering="crispEdges"/>
<line x1="1075.5" y1="63.5" x2="1081.0" y2="58"/>
<line x1="1102.5" y1="63" x2="1102.5" y2="83" shape-rendering="crispEdges"/>
<line x1="1102.5" y1="63.5" x2="1108.0" y2="58"/>
<line x1="1129.5" y1="63" x2="1129.5" y2="83" shape-rendering="crispEdges"/>
<line x1="1129.5" y1="63.5" x2="1135.0" y2="58"/>
<line x1="1156.5" y1="63" x2="1156.5" y2="83" shape-rendering="crispEdges"/>
<line x1="1156.5" y1="63.5" x2="1162.0" y2="58"/>
<line x1="1183.5" y1="63" x2="1183.5" y2="83" shape-rendering="crispEdges"/>
<line x1="1183.5" y1="63.5" x2="1189.0" y2="58"/>
<line x1="1237.5" y1="63" x2="1237.5" y2="83" shape-rendering="crispEdges"/>
<line x1="1237.5" y1="63.5" x2="1243.0" y2="58"/>
</g>
<text transform="translate(486.0,53.8) scale(1.4,1)" font-family="Liberation Serif, serif" font-weight="bold" font-size="9.4" fill="#D87A48">y</text>
<text x="493.2" y="54.4" font-family="Liberation Sans, sans-serif" font-size="8.5" fill="#D8804C" textLength="7.2" lengthAdjust="spacingAndGlyphs">29</text>
<text transform="translate(540.0,53.8) scale(1.4,1)" font-family="Liberation Serif, serif" font-weight="bold" font-size="9.4" fill="#D87A48">y</text>
<text x="547.2" y="54.4" font-family="Liberation Sans, sans-serif" font-size="8.5" fill="#D8804C" textLength="7.2" lengthAdjust="spacingAndGlyphs">27</text>
<text transform="translate(702.0,53.8) scale(1.4,1)" font-family="Liberation Serif, serif" font-weight="bold" font-size="9.4" fill="#D87A48">y</text>
<text x="709.2" y="54.4" font-family="Liberation Sans, sans-serif" font-size="8.5" fill="#D8804C" textLength="7.2" lengthAdjust="spacingAndGlyphs">21</text>
<text transform="translate(783.0,53.8) scale(1.4,1)" font-family="Liberation Serif, serif" font-weight="bold" font-size="9.4" fill="#D87A48">y</text>
<text x="790.2" y="54.4" font-family="Liberation Sans, sans-serif" font-size="8.5" fill="#D8804C" textLength="7.2" lengthAdjust="spacingAndGlyphs">18</text>
<text transform="translate(810.0,53.8) scale(1.4,1)" font-family="Liberation Serif, serif" font-weight="bold" font-size="9.4" fill="#D87A48">y</text>
<text x="817.2" y="54.4" font-family="Liberation Sans, sans-serif" font-size="8.5" fill="#D8804C" textLength="7.2" lengthAdjust="spacingAndGlyphs">17</text>
<text transform="translate(837.0,53.8) scale(1.4,1)" font-family="Liberation Serif, serif" font-weight="bold" font-size="9.4" fill="#D87A48">y</text>
<text x="844.2" y="54.4" font-family="Liberation Sans, sans-serif" font-size="8.5" fill="#D8804C" textLength="7.2" lengthAdjust="spacingAndGlyphs">16</text>
<text transform="translate(864.0,53.8) scale(1.4,1)" font-family="Liberation Serif, serif" font-weight="bold" font-size="9.4" fill="#D87A48">y</text>
<text x="871.2" y="54.4" font-family="Liberation Sans, sans-serif" font-size="8.5" fill="#D8804C" textLength="7.2" lengthAdjust="spacingAndGlyphs">15</text>
<text transform="translate(891.0,53.8) scale(1.4,1)" font-family="Liberation Serif, serif" font-weight="bold" font-size="9.4" fill="#D87A48">y</text>
<text x="898.2" y="54.4" font-family="Liberation Sans, sans-serif" font-size="8.5" fill="#D8804C" textLength="7.2" lengthAdjust="spacingAndGlyphs">14</text>
<text transform="translate(918.0,53.8) scale(1.4,1)" font-family="Liberation Serif, serif" font-weight="bold" font-size="9.4" fill="#D87A48">y</text>
<text x="925.2" y="54.4" font-family="Liberation Sans, sans-serif" font-size="8.5" fill="#D8804C" textLength="7.2" lengthAdjust="spacingAndGlyphs">13</text>
<text transform="translate(972.0,53.8) scale(1.4,1)" font-family="Liberation Serif, serif" font-weight="bold" font-size="9.4" fill="#D87A48">y</text>
<text x="979.2" y="54.4" font-family="Liberation Sans, sans-serif" font-size="8.5" fill="#D8804C" textLength="7.2" lengthAdjust="spacingAndGlyphs">11</text>
<text transform="translate(1026.0,53.8) scale(1.4,1)" font-family="Liberation Serif, serif" font-weight="bold" font-size="9.4" fill="#D87A48">y</text>
<text x="1033.2" y="54.4" font-family="Liberation Sans, sans-serif" font-size="8.5" fill="#D8804C" textLength="3.6" lengthAdjust="spacingAndGlyphs">9</text>
<text transform="translate(1080.0,53.8) scale(1.4,1)" font-family="Liberation Serif, serif" font-weight="bold" font-size="9.4" fill="#D87A48">y</text>
<text x="1087.2" y="54.4" font-family="Liberation Sans, sans-serif" font-size="8.5" fill="#D8804C" textLength="3.6" lengthAdjust="spacingAndGlyphs">7</text>
<text transform="translate(1107.0,53.8) scale(1.4,1)" font-family="Liberation Serif, serif" font-weight="bold" font-size="9.4" fill="#D87A48">y</text>
<text x="1114.2" y="54.4" font-family="Liberation Sans, sans-serif" font-size="8.5" fill="#D8804C" textLength="3.6" lengthAdjust="spacingAndGlyphs">6</text>
<text transform="translate(1134.0,53.8) scale(1.4,1)" font-family="Liberation Serif, serif" font-weight="bold" font-size="9.4" fill="#D87A48">y</text>
<text x="1141.2" y="54.4" font-family="Liberation Sans, sans-serif" font-size="8.5" fill="#D8804C" textLength="3.6" lengthAdjust="spacingAndGlyphs">5</text>
<text transform="translate(1161.0,53.8) scale(1.4,1)" font-family="Liberation Serif, serif" font-weight="bold" font-size="9.4" fill="#D87A48">y</text>
<text x="1168.2" y="54.4" font-family="Liberation Sans, sans-serif" font-size="8.5" fill="#D8804C" textLength="3.6" lengthAdjust="spacingAndGlyphs">4</text>
<text transform="translate(1188.0,53.8) scale(1.4,1)" font-family="Liberation Serif, serif" font-weight="bold" font-size="9.4" fill="#D87A48">y</text>
<text x="1195.2" y="54.4" font-family="Liberation Sans, sans-serif" font-size="8.5" fill="#D8804C" textLength="3.6" lengthAdjust="spacingAndGlyphs">3</text>
<text transform="translate(1242.0,53.8) scale(1.4,1)" font-family="Liberation Serif, serif" font-weight="bold" font-size="9.4" fill="#D87A48">y</text>
<text x="1249.2" y="54.4" font-family="Liberation Sans, sans-serif" font-size="8.5" fill="#D8804C" textLength="3.6" lengthAdjust="spacingAndGlyphs">1</text>
<text x="501.5" y="98.9" font-family="Liberation Sans, sans-serif" font-weight="bold" font-size="10.8" fill="#187818">b</text>
<text x="509.1" y="99.5" font-family="Liberation Sans, sans-serif" font-size="8.6" fill="#2A7A2A" textLength="3.9" lengthAdjust="spacingAndGlyphs">2</text>
<text x="528.5" y="98.9" font-family="Liberation Sans, sans-serif" font-weight="bold" font-size="10.8" fill="#187818">b</text>
<text x="536.1" y="99.5" font-family="Liberation Sans, sans-serif" font-size="8.6" fill="#2A7A2A" textLength="3.9" lengthAdjust="spacingAndGlyphs">3</text>
<text x="636.5" y="98.9" font-family="Liberation Sans, sans-serif" font-weight="bold" font-size="10.8" fill="#187818">b</text>
<text x="644.1" y="99.5" font-family="Liberation Sans, sans-serif" font-size="8.6" fill="#2A7A2A" textLength="3.9" lengthAdjust="spacingAndGlyphs">7</text>
<text x="825.5" y="98.9" font-family="Liberation Sans, sans-serif" font-weight="bold" font-size="10.8" fill="#187818">b</text>
<text x="833.1" y="99.5" font-family="Liberation Sans, sans-serif" font-size="8.6" fill="#2A7A2A" textLength="7.7" lengthAdjust="spacingAndGlyphs">14</text>
<text x="852.5" y="98.9" font-family="Liberation Sans, sans-serif" font-weight="bold" font-size="10.8" fill="#187818">b</text>
<text x="860.1" y="99.5" font-family="Liberation Sans, sans-serif" font-size="8.6" fill="#2A7A2A" textLength="7.7" lengthAdjust="spacingAndGlyphs">15</text>
</svg></body></html>
